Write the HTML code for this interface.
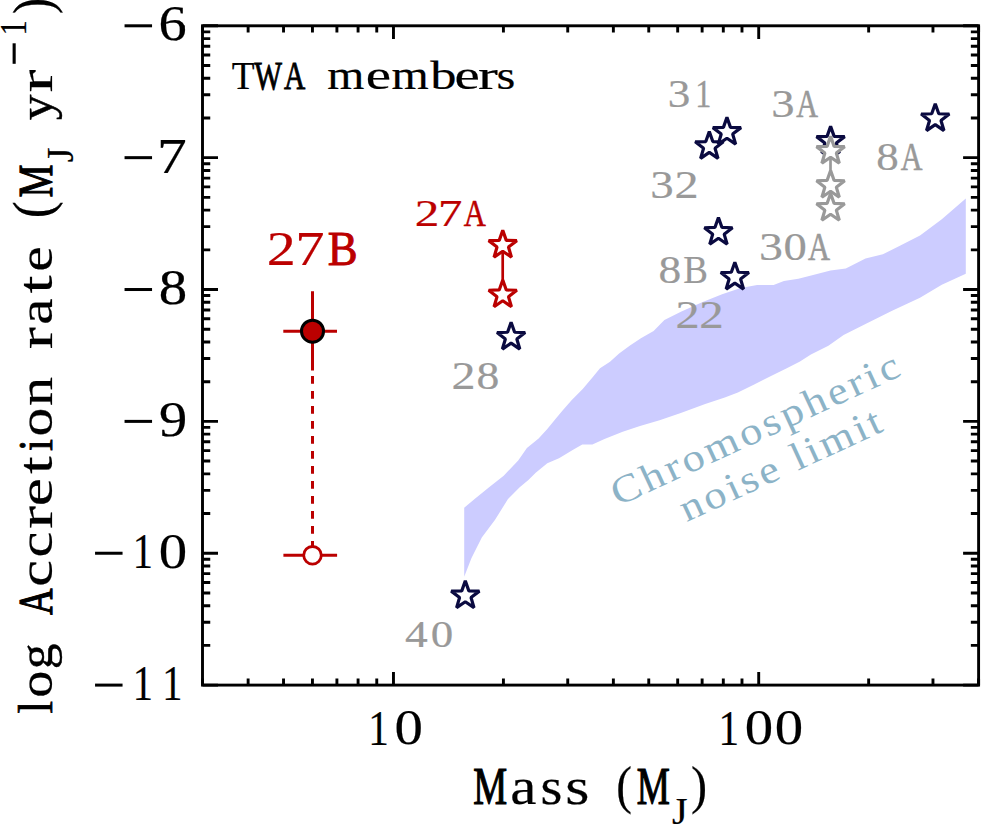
<!DOCTYPE html>
<html><head><meta charset="utf-8"><style>
html,body{margin:0;padding:0;background:#fff;width:981px;height:825px;overflow:hidden}
svg{display:block}
text{font-family:"Liberation Serif",serif;font-kerning:none;white-space:pre}
</style></head><body>
<svg width="981" height="825" viewBox="0 0 981 825">
<rect width="981" height="825" fill="#fff"/>
<polygon points="464.2,507.7 474.6,499.0 489.1,487.3 503.7,475.7 518.2,460.4 526.9,448.0 538.6,438.6 547.3,429.1 556.1,418.2 563.0,410.0 571.8,400.0 582.7,389.1 591.8,378.2 600.0,368.2 610.0,361.8 619.1,353.6 630.0,345.5 640.9,338.2 653.6,330.9 664.4,320.1 680.9,311.8 701.5,302.5 722.1,294.3 740.7,288.1 757.1,285.0 773.6,285.0 783.9,280.9 798.4,278.8 813.1,274.9 830.5,270.5 845.8,268.4 865.5,258.5 882.9,254.2 900.4,245.5 920.0,235.6 941.8,219.3 965.8,198.5 965.8,273.8 941.8,284.7 920.0,297.8 891.6,310.9 865.5,324.0 843.6,334.9 828.4,345.8 810.9,354.6 800.0,361.6 786.8,368.2 770.5,376.3 754.2,384.5 737.9,392.6 724.8,397.5 705.2,404.0 680.8,413.0 659.6,420.3 640.0,426.1 622.7,431.8 604.5,439.1 592.4,444.4 582.3,444.4 573.5,449.5 559.0,458.2 547.3,463.3 535.7,472.8 528.4,480.0 519.7,487.3 508.0,499.0 494.9,520.0 481.8,537.5 471.5,558.1 464.2,576.7" fill="#ccccff"/>
<g transform="translate(648.2,492.6) rotate(-24.8)"><text transform="translate(-33.4,0) scale(1.14,1)" font-size="39" letter-spacing="2.9" fill="#8cb3c7">Chromospheric</text></g>
<g transform="translate(687.4,521.8) rotate(-24.8)"><text transform="translate(-1.02,0) scale(1.14,1)" font-size="39" letter-spacing="2.6" fill="#8cb3c7">noise limit</text></g>
<rect x="202.50" y="25.80" width="776.10" height="659.30" fill="none" stroke="#000" stroke-width="2.9"/>
<path d="M202.50,685.10h15.50M978.60,685.10h-15.50M202.50,645.41h7.75M978.60,645.41h-7.75M202.50,622.19h7.75M978.60,622.19h-7.75M202.50,605.71h7.75M978.60,605.71h-7.75M202.50,592.93h7.75M978.60,592.93h-7.75M202.50,582.49h7.75M978.60,582.49h-7.75M202.50,573.67h7.75M978.60,573.67h-7.75M202.50,566.02h7.75M978.60,566.02h-7.75M202.50,559.27h7.75M978.60,559.27h-7.75M202.50,553.24h15.50M978.60,553.24h-15.50M202.50,513.55h7.75M978.60,513.55h-7.75M202.50,490.33h7.75M978.60,490.33h-7.75M202.50,473.85h7.75M978.60,473.85h-7.75M202.50,461.07h7.75M978.60,461.07h-7.75M202.50,450.63h7.75M978.60,450.63h-7.75M202.50,441.81h7.75M978.60,441.81h-7.75M202.50,434.16h7.75M978.60,434.16h-7.75M202.50,427.41h7.75M978.60,427.41h-7.75M202.50,421.38h15.50M978.60,421.38h-15.50M202.50,381.69h7.75M978.60,381.69h-7.75M202.50,358.47h7.75M978.60,358.47h-7.75M202.50,341.99h7.75M978.60,341.99h-7.75M202.50,329.21h7.75M978.60,329.21h-7.75M202.50,318.77h7.75M978.60,318.77h-7.75M202.50,309.95h7.75M978.60,309.95h-7.75M202.50,302.30h7.75M978.60,302.30h-7.75M202.50,295.55h7.75M978.60,295.55h-7.75M202.50,289.52h15.50M978.60,289.52h-15.50M202.50,249.83h7.75M978.60,249.83h-7.75M202.50,226.61h7.75M978.60,226.61h-7.75M202.50,210.13h7.75M978.60,210.13h-7.75M202.50,197.35h7.75M978.60,197.35h-7.75M202.50,186.91h7.75M978.60,186.91h-7.75M202.50,178.09h7.75M978.60,178.09h-7.75M202.50,170.44h7.75M978.60,170.44h-7.75M202.50,163.69h7.75M978.60,163.69h-7.75M202.50,157.66h15.50M978.60,157.66h-15.50M202.50,117.97h7.75M978.60,117.97h-7.75M202.50,94.75h7.75M978.60,94.75h-7.75M202.50,78.27h7.75M978.60,78.27h-7.75M202.50,65.49h7.75M978.60,65.49h-7.75M202.50,55.05h7.75M978.60,55.05h-7.75M202.50,46.23h7.75M978.60,46.23h-7.75M202.50,38.58h7.75M978.60,38.58h-7.75M202.50,31.83h7.75M978.60,31.83h-7.75M202.50,25.80h15.50M978.60,25.80h-15.50M202.50,685.10v-6.60M202.50,25.80v6.60M248.13,685.10v-6.60M248.13,25.80v6.60M283.53,685.10v-6.60M283.53,25.80v6.60M312.45,685.10v-6.60M312.45,25.80v6.60M336.90,685.10v-6.60M336.90,25.80v6.60M358.08,685.10v-6.60M358.08,25.80v6.60M376.76,685.10v-6.60M376.76,25.80v6.60M393.47,685.10v-13.20M393.47,25.80v13.20M503.42,685.10v-6.60M503.42,25.80v6.60M567.73,685.10v-6.60M567.73,25.80v6.60M613.37,685.10v-6.60M613.37,25.80v6.60M648.76,685.10v-6.60M648.76,25.80v6.60M677.68,685.10v-6.60M677.68,25.80v6.60M702.13,685.10v-6.60M702.13,25.80v6.60M723.31,685.10v-6.60M723.31,25.80v6.60M741.99,685.10v-6.60M741.99,25.80v6.60M758.71,685.10v-13.20M758.71,25.80v13.20M868.65,685.10v-6.60M868.65,25.80v6.60M932.97,685.10v-6.60M932.97,25.80v6.60M978.60,685.10v-6.60M978.60,25.80v6.60" stroke="#000" stroke-width="2.9" fill="none"/>
<rect x="95.05" y="683.60" width="27.50" height="3.00" fill="#000"/>
<text transform="translate(132.75,700.10) scale(0.7901,1)" font-size="51.05" fill="#000" stroke="#000" stroke-width="0.2">1</text>
<text transform="translate(162.25,700.10) scale(0.7901,1)" font-size="51.05" fill="#000" stroke="#000" stroke-width="0.2">1</text>
<rect x="95.05" y="551.74" width="27.50" height="3.00" fill="#000"/>
<text transform="translate(132.75,568.24) scale(0.7901,1)" font-size="51.05" fill="#000" stroke="#000" stroke-width="0.2">1</text>
<text transform="translate(158.68,567.75) scale(1.1386,1)" font-size="49.94" fill="#000" stroke="#000" stroke-width="0.2">0</text>
<rect x="124.55" y="419.88" width="27.50" height="3.00" fill="#000"/>
<text transform="translate(159.03,435.89) scale(1.1259,1)" font-size="50.16" fill="#000" stroke="#000" stroke-width="0.2">9</text>
<rect x="124.55" y="288.02" width="27.50" height="3.00" fill="#000"/>
<text transform="translate(158.68,304.03) scale(1.1386,1)" font-size="49.94" fill="#000" stroke="#000" stroke-width="0.2">8</text>
<rect x="124.55" y="156.16" width="27.50" height="3.00" fill="#000"/>
<text transform="translate(156.93,172.66) scale(1.1554,1)" font-size="51.47" fill="#000" stroke="#000" stroke-width="0.2">7</text>
<rect x="124.55" y="24.30" width="27.50" height="3.00" fill="#000"/>
<text transform="translate(158.43,40.31) scale(1.1246,1)" font-size="50.16" fill="#000" stroke="#000" stroke-width="0.2">6</text>
<text transform="translate(368.28,744.70) scale(0.7997,1)" font-size="51.50" fill="#000" stroke="#000" stroke-width="0.2">1</text>
<text transform="translate(394.53,744.21) scale(1.1286,1)" font-size="50.38" fill="#000" stroke="#000" stroke-width="0.2">0</text>
<text transform="translate(718.48,744.70) scale(0.7997,1)" font-size="51.50" fill="#000" stroke="#000" stroke-width="0.2">1</text>
<text transform="translate(744.63,744.21) scale(1.1286,1)" font-size="50.38" fill="#000" stroke="#000" stroke-width="0.2">0</text>
<text transform="translate(774.78,744.21) scale(1.1286,1)" font-size="50.38" fill="#000" stroke="#000" stroke-width="0.2">0</text>
<text transform="translate(473.19,804.20) scale(0.7323,1)" font-size="52.00" fill="#000" stroke="#000" stroke-width="1.20">M</text>
<text transform="translate(510.14,804.20) scale(1.1329,1)" font-size="52.00" fill="#000" stroke="#000" stroke-width="0.20">a</text>
<text transform="translate(540.62,804.20) scale(1.0811,1)" font-size="52.00" fill="#000" stroke="#000" stroke-width="0.24">s</text>
<text transform="translate(565.37,804.20) scale(1.1931,1)" font-size="52.00" fill="#000" stroke="#000" stroke-width="0.20">s</text>
<text transform="translate(616.33,802.77) scale(0.8772,1)" font-size="53.71" fill="#000" stroke="#000" stroke-width="0.2">(</text>
<text transform="translate(636.66,804.20) scale(0.7154,1)" font-size="52.00" fill="#000" stroke="#000" stroke-width="1.20">M</text>
<text transform="translate(672.06,823.63) scale(1.0434,1)" font-size="38.37" fill="#000" stroke="#000" stroke-width="0.2">J</text>
<text transform="translate(690.94,802.77) scale(0.8989,1)" font-size="53.71" fill="#000" stroke="#000" stroke-width="0.2">)</text>
<text transform="translate(52.30,713.58) rotate(-90) scale(0.9266,1)" font-size="49.00" fill="#000" stroke="#000" stroke-width="0.71">l</text>
<text transform="translate(52.30,697.43) rotate(-90) scale(1.0920,1)" font-size="49.00" fill="#000" stroke="#000" stroke-width="0.20">o</text>
<text transform="translate(52.30,669.13) rotate(-90) scale(1.0498,1)" font-size="49.00" fill="#000" stroke="#000" stroke-width="0.35">g</text>
<text transform="translate(52.30,615.11) rotate(-90) scale(0.7488,1)" font-size="49.00" fill="#000" stroke="#000" stroke-width="1.20">A</text>
<text transform="translate(52.30,586.67) rotate(-90) scale(1.2273,1)" font-size="49.00" fill="#000" stroke="#000" stroke-width="0.20">c</text>
<text transform="translate(52.30,557.50) rotate(-90) scale(1.1896,1)" font-size="49.00" fill="#000" stroke="#000" stroke-width="0.20">c</text>
<text transform="translate(52.30,529.04) rotate(-90) scale(1.4098,1)" font-size="49.00" fill="#000" stroke="#000" stroke-width="0.20">r</text>
<text transform="translate(52.30,506.24) rotate(-90) scale(1.2924,1)" font-size="49.00" fill="#000" stroke="#000" stroke-width="0.20">e</text>
<text transform="translate(52.30,473.89) rotate(-90) scale(1.3026,1)" font-size="49.00" fill="#000" stroke="#000" stroke-width="0.20">t</text>
<text transform="translate(52.30,450.99) rotate(-90) scale(0.8683,1)" font-size="49.00" fill="#000" stroke="#000" stroke-width="0.93">i</text>
<text transform="translate(52.30,436.47) rotate(-90) scale(1.1731,1)" font-size="49.00" fill="#000" stroke="#000" stroke-width="0.20">o</text>
<text transform="translate(52.30,405.92) rotate(-90) scale(1.1867,1)" font-size="49.00" fill="#000" stroke="#000" stroke-width="0.20">n</text>
<text transform="translate(52.30,349.30) rotate(-90) scale(1.3569,1)" font-size="49.00" fill="#000" stroke="#000" stroke-width="0.20">r</text>
<text transform="translate(52.30,324.86) rotate(-90) scale(1.2067,1)" font-size="49.00" fill="#000" stroke="#000" stroke-width="0.20">a</text>
<text transform="translate(52.30,293.50) rotate(-90) scale(1.3255,1)" font-size="49.00" fill="#000" stroke="#000" stroke-width="0.20">t</text>
<text transform="translate(52.30,271.51) rotate(-90) scale(1.1615,1)" font-size="49.00" fill="#000" stroke="#000" stroke-width="0.20">e</text>
<text transform="translate(52.30,197.31) rotate(-90) scale(0.7507,1)" font-size="49.00" fill="#000" stroke="#000" stroke-width="1.20">M</text>
<text transform="translate(52.30,120.14) rotate(-90) scale(1.0465,1)" font-size="49.00" fill="#000" stroke="#000" stroke-width="0.36">y</text>
<text transform="translate(52.30,92.54) rotate(-90) scale(1.4098,1)" font-size="49.00" fill="#000" stroke="#000" stroke-width="0.20">r</text>
<text transform="translate(51.28,218.14) rotate(-90) scale(0.9343,1)" font-size="54.59" fill="#000" stroke="#000" stroke-width="0.2">(</text>
<text transform="translate(72.82,162.19) rotate(-90) scale(0.9719,1)" font-size="38.82" fill="#000" stroke="#000" stroke-width="0.2">J</text>
<rect x="12.60" y="43.30" width="3.10" height="20.50" fill="#000"/>
<text transform="translate(25.90,35.60) rotate(-90) scale(0.8101,1)" font-size="37.87" fill="#000" stroke="#000" stroke-width="0.2">1</text>
<text transform="translate(51.30,14.06) rotate(-90) scale(0.8862,1)" font-size="54.48" fill="#000" stroke="#000" stroke-width="0.2">)</text>
<text transform="translate(231.72,88.50) scale(0.9108,1)" font-size="41.00" fill="#000" stroke="#000" stroke-width="0.20">T</text>
<text transform="translate(254.30,88.50) scale(0.7163,1)" font-size="41.00" fill="#000" stroke="#000" stroke-width="0.91">W</text>
<text transform="translate(283.92,88.50) scale(0.7180,1)" font-size="41.00" fill="#000" stroke="#000" stroke-width="0.87">A</text>
<text transform="translate(327.31,88.50) scale(1.1637,1)" font-size="41.00" fill="#000" stroke="#000" stroke-width="0.20">m</text>
<text transform="translate(365.81,88.50) scale(1.3916,1)" font-size="41.00" fill="#000" stroke="#000" stroke-width="0.20">e</text>
<text transform="translate(391.51,88.50) scale(1.1670,1)" font-size="41.00" fill="#000" stroke="#000" stroke-width="0.20">m</text>
<text transform="translate(430.23,88.50) scale(1.2800,1)" font-size="41.00" fill="#000" stroke="#000" stroke-width="0.20">b</text>
<text transform="translate(454.51,88.50) scale(1.3916,1)" font-size="41.00" fill="#000" stroke="#000" stroke-width="0.20">e</text>
<text transform="translate(477.95,88.50) scale(1.4516,1)" font-size="41.00" fill="#000" stroke="#000" stroke-width="0.20">r</text>
<text transform="translate(496.54,88.50) scale(1.1773,1)" font-size="41.00" fill="#000" stroke="#000" stroke-width="0.20">s</text>
<path d="M312.5,291.3V370.6M283.3,331.2H337" stroke="#bb0000" stroke-width="3" fill="none"/>
<path d="M312.5,376V549" stroke="#bb0000" stroke-width="3" stroke-dasharray="7.7 7.3" fill="none"/>
<path d="M283.4,555.3H337.1" stroke="#bb0000" stroke-width="3" fill="none"/>
<circle cx="312.5" cy="555.3" r="8.8" fill="#fff" stroke="#bb0000" stroke-width="2.8"/>
<circle cx="312.5" cy="331.2" r="11" fill="#bb0000" stroke="#000" stroke-width="3"/>
<path d="M502.7,245V294" stroke="#bb0000" stroke-width="2.7"/>
<path d="M502.75,230.40L506.28,240.35L516.83,240.63L508.46,247.05L511.45,257.17L502.75,251.20L494.05,257.17L497.04,247.05L488.67,240.63L499.22,240.35Z" fill="#fff" stroke="#bb0000" stroke-width="3.2" stroke-linejoin="bevel"/>
<path d="M502.75,280.00L506.28,289.95L516.83,290.23L508.46,296.65L511.45,306.77L502.75,300.80L494.05,306.77L497.04,296.65L488.67,290.23L499.22,289.95Z" fill="#fff" stroke="#bb0000" stroke-width="3.2" stroke-linejoin="bevel"/>
<path d="M511.10,322.30L514.63,332.25L525.18,332.53L516.81,338.95L519.80,349.07L511.10,343.10L502.40,349.07L505.39,338.95L497.02,332.53L507.57,332.25Z" fill="#fff" stroke="#0a0a40" stroke-width="3.2" stroke-linejoin="bevel"/>
<path d="M465.30,580.90L468.83,590.85L479.38,591.13L471.01,597.55L474.00,607.67L465.30,601.70L456.60,607.67L459.59,597.55L451.22,591.13L461.77,590.85Z" fill="#fff" stroke="#0a0a40" stroke-width="3.2" stroke-linejoin="bevel"/>
<path d="M709.30,131.60L712.83,141.55L723.38,141.83L715.01,148.25L718.00,158.37L709.30,152.40L700.60,158.37L703.59,148.25L695.22,141.83L705.77,141.55Z" fill="#fff" stroke="#0a0a40" stroke-width="3.2" stroke-linejoin="bevel"/>
<path d="M726.95,117.40L730.48,127.35L741.03,127.63L732.66,134.05L735.65,144.17L726.95,138.20L718.25,144.17L721.24,134.05L712.87,127.63L723.42,127.35Z" fill="#fff" stroke="#0a0a40" stroke-width="3.2" stroke-linejoin="bevel"/>
<path d="M718.45,217.50L721.98,227.45L732.53,227.73L724.16,234.15L727.15,244.27L718.45,238.30L709.75,244.27L712.74,234.15L704.37,227.73L714.92,227.45Z" fill="#fff" stroke="#0a0a40" stroke-width="3.2" stroke-linejoin="bevel"/>
<path d="M734.85,262.30L738.38,272.25L748.93,272.53L740.56,278.95L743.55,289.07L734.85,283.10L726.15,289.07L729.14,278.95L720.77,272.53L731.32,272.25Z" fill="#fff" stroke="#0a0a40" stroke-width="3.2" stroke-linejoin="bevel"/>
<path d="M935.25,103.80L938.78,113.75L949.33,114.03L940.96,120.45L943.95,130.57L935.25,124.60L926.55,130.57L929.54,120.45L921.17,114.03L931.72,113.75Z" fill="#fff" stroke="#0a0a40" stroke-width="3.2" stroke-linejoin="bevel"/>
<path d="M830.60,126.40L834.13,136.35L844.68,136.63L836.31,143.05L839.30,153.17L830.60,147.20L821.90,153.17L824.89,143.05L816.52,136.63L827.07,136.35Z" fill="#fff" stroke="#0a0a40" stroke-width="3.2" stroke-linejoin="bevel"/>
<path d="M830.5,150V185" stroke="#999999" stroke-width="2.7"/>
<path d="M830.60,136.40L834.13,146.35L844.68,146.63L836.31,153.05L839.30,163.17L830.60,157.20L821.90,163.17L824.89,153.05L816.52,146.63L827.07,146.35Z" fill="#fff" stroke="#999999" stroke-width="3.2" stroke-linejoin="bevel"/>
<path d="M830.60,170.50L834.13,180.45L844.68,180.73L836.31,187.15L839.30,197.27L830.60,191.30L821.90,197.27L824.89,187.15L816.52,180.73L827.07,180.45Z" fill="#fff" stroke="#999999" stroke-width="3.2" stroke-linejoin="bevel"/>
<path d="M830.60,193.50L834.13,203.45L844.68,203.73L836.31,210.15L839.30,220.27L830.60,214.30L821.90,220.27L824.89,210.15L816.52,203.73L827.07,203.45Z" fill="#fff" stroke="#999999" stroke-width="3.2" stroke-linejoin="bevel"/>
<text transform="translate(266.67,265.21) scale(1.1815,1)" font-size="49.11" fill="#bb0000" stroke="#bb0000" stroke-width="0.20">2</text>
<text transform="translate(295.35,265.21) scale(1.1937,1)" font-size="49.11" fill="#bb0000" stroke="#bb0000" stroke-width="0.20">7</text>
<text transform="translate(327.64,265.21) scale(0.9125,1)" font-size="49.11" fill="#bb0000" stroke="#bb0000" stroke-width="0.94">B</text>
<text transform="translate(414.86,225.51) scale(1.2659,1)" font-size="38.91" fill="#bb0000" stroke="#bb0000" stroke-width="0.20">2</text>
<text transform="translate(437.91,225.51) scale(1.2524,1)" font-size="38.91" fill="#bb0000" stroke="#bb0000" stroke-width="0.20">7</text>
<text transform="translate(463.70,225.51) scale(0.7872,1)" font-size="38.91" fill="#bb0000" stroke="#bb0000" stroke-width="0.51">A</text>
<text transform="translate(667.75,107.41) scale(1.1527,1)" font-size="39.20" fill="#999999" stroke="#999999" stroke-width="0.20">3</text>
<text transform="translate(695.21,107.41) scale(0.8202,1)" font-size="39.20" fill="#999999" stroke="#999999" stroke-width="0.33">1</text>
<text transform="translate(650.18,197.70) scale(1.1822,1)" font-size="39.64" fill="#999999" stroke="#999999" stroke-width="0.20">3</text>
<text transform="translate(674.50,197.70) scale(1.2177,1)" font-size="39.64" fill="#999999" stroke="#999999" stroke-width="0.20">2</text>
<text transform="translate(771.19,116.81) scale(1.1893,1)" font-size="39.20" fill="#999999" stroke="#999999" stroke-width="0.20">3</text>
<text transform="translate(796.13,116.81) scale(0.7683,1)" font-size="39.20" fill="#999999" stroke="#999999" stroke-width="0.59">A</text>
<text transform="translate(876.30,169.81) scale(1.1476,1)" font-size="39.20" fill="#999999" stroke="#999999" stroke-width="0.20">8</text>
<text transform="translate(900.83,169.81) scale(0.7683,1)" font-size="39.20" fill="#999999" stroke="#999999" stroke-width="0.59">A</text>
<text transform="translate(658.38,283.00) scale(1.1467,1)" font-size="39.64" fill="#999999" stroke="#999999" stroke-width="0.20">8</text>
<text transform="translate(683.13,283.00) scale(0.9335,1)" font-size="39.64" fill="#999999" stroke="#999999" stroke-width="0.20">B</text>
<text transform="translate(758.93,259.70) scale(1.1931,1)" font-size="40.09" fill="#999999" stroke="#999999" stroke-width="0.20">3</text>
<text transform="translate(783.54,259.70) scale(1.1633,1)" font-size="40.09" fill="#999999" stroke="#999999" stroke-width="0.20">0</text>
<text transform="translate(807.95,259.70) scale(0.7607,1)" font-size="40.09" fill="#999999" stroke="#999999" stroke-width="0.64">A</text>
<text transform="translate(675.60,327.71) scale(1.2313,1)" font-size="39.20" fill="#999999" stroke="#999999" stroke-width="0.20">2</text>
<text transform="translate(699.17,327.71) scale(1.2502,1)" font-size="39.20" fill="#999999" stroke="#999999" stroke-width="0.20">2</text>
<text transform="translate(451.61,388.71) scale(1.2205,1)" font-size="39.35" fill="#999999" stroke="#999999" stroke-width="0.20">2</text>
<text transform="translate(476.38,388.71) scale(1.1612,1)" font-size="39.35" fill="#999999" stroke="#999999" stroke-width="0.20">8</text>
<text transform="translate(405.03,647.01) scale(1.1702,1)" font-size="38.91" fill="#999999" stroke="#999999" stroke-width="0.20">4</text>
<text transform="translate(430.80,647.01) scale(1.1563,1)" font-size="38.91" fill="#999999" stroke="#999999" stroke-width="0.20">0</text>
</svg>
</body></html>
